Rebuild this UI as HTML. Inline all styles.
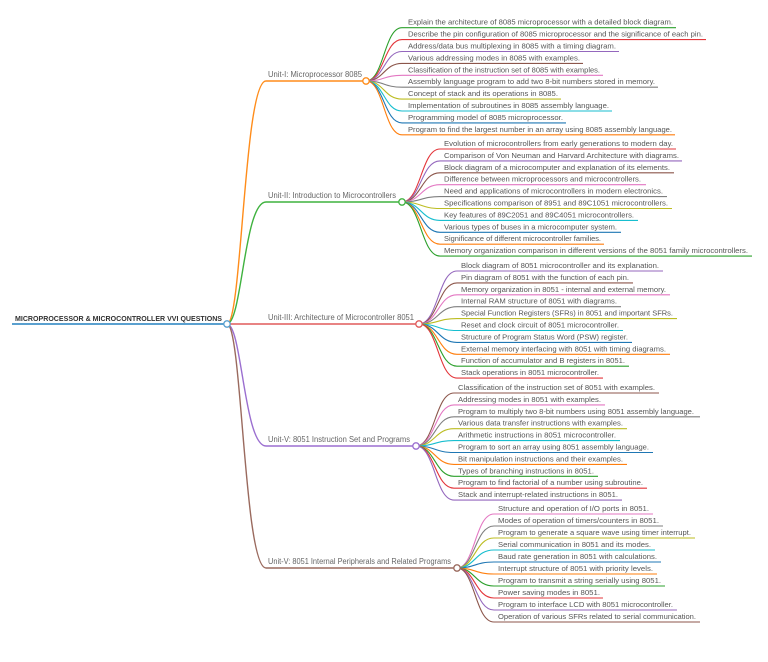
<!DOCTYPE html>
<html><head><meta charset="utf-8"><style>
html,body{margin:0;padding:0;background:#fff;}
svg{display:block;}
text{font-family:"Liberation Sans",sans-serif;font-size:7.3px;fill:#555;}
.u{font-size:7.8px;fill:#666;}
</style></head><body>
<svg width="768" height="662" viewBox="0 0 768 662" xmlns="http://www.w3.org/2000/svg" fill="none">
<!-- root branches -->
<g stroke-width="1.4" fill="none">
<path d="M227 324 C242 324 244 81 266 81 H366" stroke="#ff8c1a"/>
<path d="M227 324 C242 324 244 202 266 202 H402" stroke="#3fb23f"/>
<path d="M227 324 H419" stroke="#e05a5a"/>
<path d="M227 324 C242 324 244 446 266 446 H416" stroke="#9b6fd0"/>
<path d="M227 324 C242 324 244 568 266 568 H457" stroke="#9a6a5e"/>
<path d="M12 324 H227" stroke="#5aa0cf" stroke-width="2"/>
</g>
<text x="15" y="321" style="font-weight:bold;font-size:7.6px;fill:#333" textLength="207" lengthAdjust="spacingAndGlyphs">MICROPROCESSOR &amp; MICROCONTROLLER VVI QUESTIONS</text>
<text class="u" x="268" y="77" textLength="94" lengthAdjust="spacingAndGlyphs">Unit-I: Microprocessor 8085</text>
<text class="u" x="268" y="198" textLength="128" lengthAdjust="spacingAndGlyphs">Unit-II: Introduction to Microcontrollers</text>
<text class="u" x="268" y="320" textLength="146" lengthAdjust="spacingAndGlyphs">Unit-III: Architecture of Microcontroller 8051</text>
<text class="u" x="268" y="442" textLength="142" lengthAdjust="spacingAndGlyphs">Unit-V: 8051 Instruction Set and Programs</text>
<text class="u" x="268" y="564" textLength="183" lengthAdjust="spacingAndGlyphs">Unit-V: 8051 Internal Peripherals and Related Programs</text>

<!-- Unit I children -->
<g stroke-width="1.1">
<path d="M366 81 C384 81 384 27.7 402 27.7 H676" stroke="#2ca02c"/>
<path d="M366 81 C384 81 384 39.6 402 39.6 H706" stroke="#e3353a"/>
<path d="M366 81 C384 81 384 51.5 402 51.5 H619" stroke="#9467bd"/>
<path d="M366 81 C384 81 384 63.4 402 63.4 H583" stroke="#8c564b"/>
<path d="M366 81 C384 81 384 75.3 402 75.3 H603" stroke="#e377c2"/>
<path d="M366 81 C384 81 384 87.2 402 87.2 H658" stroke="#7f7f7f"/>
<path d="M366 81 C384 81 384 99.1 402 99.1 H561" stroke="#bcbd22"/>
<path d="M366 81 C384 81 384 111 402 111 H612" stroke="#17becf"/>
<path d="M366 81 C384 81 384 122.9 402 122.9 H566" stroke="#1f77b4"/>
<path d="M366 81 C384 81 384 134.8 402 134.8 H675" stroke="#ff7f0e"/>
</g>
<g>
<text x="408" y="24.7" textLength="265" lengthAdjust="spacingAndGlyphs">Explain the architecture of 8085 microprocessor with a detailed block diagram.</text>
<text x="408" y="36.6" textLength="295" lengthAdjust="spacingAndGlyphs">Describe the pin configuration of 8085 microprocessor and the significance of each pin.</text>
<text x="408" y="48.5" textLength="208" lengthAdjust="spacingAndGlyphs">Address/data bus multiplexing in 8085 with a timing diagram.</text>
<text x="408" y="60.4" textLength="172" lengthAdjust="spacingAndGlyphs">Various addressing modes in 8085 with examples.</text>
<text x="408" y="72.3" textLength="192" lengthAdjust="spacingAndGlyphs">Classification of the instruction set of 8085 with examples.</text>
<text x="408" y="84.2" textLength="247" lengthAdjust="spacingAndGlyphs">Assembly language program to add two 8-bit numbers stored in memory.</text>
<text x="408" y="96.1" textLength="150" lengthAdjust="spacingAndGlyphs">Concept of stack and its operations in 8085.</text>
<text x="408" y="108" textLength="201" lengthAdjust="spacingAndGlyphs">Implementation of subroutines in 8085 assembly language.</text>
<text x="408" y="119.9" textLength="155" lengthAdjust="spacingAndGlyphs">Programming model of 8085 microprocessor.</text>
<text x="408" y="131.8" textLength="264" lengthAdjust="spacingAndGlyphs">Program to find the largest number in an array using 8085 assembly language.</text>
</g>

<!-- Unit II children -->
<g stroke-width="1.1">
<path d="M402 202 C421 202 421 149 440 149 H676" stroke="#e3353a"/>
<path d="M402 202 C421 202 421 160.9 440 160.9 H682" stroke="#9467bd"/>
<path d="M402 202 C421 202 421 172.8 440 172.8 H674" stroke="#8c564b"/>
<path d="M402 202 C421 202 421 184.7 440 184.7 H646" stroke="#e377c2"/>
<path d="M402 202 C421 202 421 196.6 440 196.6 H667" stroke="#7f7f7f"/>
<path d="M402 202 C421 202 421 208.5 440 208.5 H672" stroke="#bcbd22"/>
<path d="M402 202 C421 202 421 220.4 440 220.4 H638" stroke="#17becf"/>
<path d="M402 202 C421 202 421 232.3 440 232.3 H621" stroke="#1f77b4"/>
<path d="M402 202 C421 202 421 244.2 440 244.2 H604" stroke="#ff7f0e"/>
<path d="M402 202 C421 202 421 256.1 440 256.1 H752" stroke="#2ca02c"/>
</g>
<g>
<text x="444" y="146" textLength="229" lengthAdjust="spacingAndGlyphs">Evolution of microcontrollers from early generations to modern day.</text>
<text x="444" y="157.9" textLength="235" lengthAdjust="spacingAndGlyphs">Comparison of Von Neuman and Harvard Architecture with diagrams.</text>
<text x="444" y="169.8" textLength="226" lengthAdjust="spacingAndGlyphs">Block diagram of a microcomputer and explanation of its elements.</text>
<text x="444" y="181.7" textLength="197" lengthAdjust="spacingAndGlyphs">Difference between microprocessors and microcontrollers.</text>
<text x="444" y="193.6" textLength="219" lengthAdjust="spacingAndGlyphs">Need and applications of microcontrollers in modern electronics.</text>
<text x="444" y="205.5" textLength="224" lengthAdjust="spacingAndGlyphs">Specifications comparison of 8951 and 89C1051 microcontrollers.</text>
<text x="444" y="217.4" textLength="190" lengthAdjust="spacingAndGlyphs">Key features of 89C2051 and 89C4051 microcontrollers.</text>
<text x="444" y="229.3" textLength="173" lengthAdjust="spacingAndGlyphs">Various types of buses in a microcomputer system.</text>
<text x="444" y="241.2" textLength="157" lengthAdjust="spacingAndGlyphs">Significance of different microcontroller families.</text>
<text x="444" y="253.1" textLength="304" lengthAdjust="spacingAndGlyphs">Memory organization comparison in different versions of the 8051 family microcontrollers.</text>
</g>

<!-- Unit III children -->
<g stroke-width="1.1">
<path d="M419 324 C438 324 438 271 457 271 H663" stroke="#9467bd"/>
<path d="M419 324 C438 324 438 282.9 457 282.9 H633" stroke="#8c564b"/>
<path d="M419 324 C438 324 438 294.8 457 294.8 H670" stroke="#e377c2"/>
<path d="M419 324 C438 324 438 306.7 457 306.7 H621" stroke="#7f7f7f"/>
<path d="M419 324 C438 324 438 318.6 457 318.6 H677" stroke="#bcbd22"/>
<path d="M419 324 C438 324 438 330.5 457 330.5 H623" stroke="#17becf"/>
<path d="M419 324 C438 324 438 342.4 457 342.4 H632" stroke="#1f77b4"/>
<path d="M419 324 C438 324 438 354.3 457 354.3 H670" stroke="#ff7f0e"/>
<path d="M419 324 C438 324 438 366.2 457 366.2 H629" stroke="#2ca02c"/>
<path d="M419 324 C438 324 438 378.1 457 378.1 H603" stroke="#e3353a"/>
</g>
<g>
<text x="461" y="268" textLength="198" lengthAdjust="spacingAndGlyphs">Block diagram of 8051 microcontroller and its explanation.</text>
<text x="461" y="279.9" textLength="168" lengthAdjust="spacingAndGlyphs">Pin diagram of 8051 with the function of each pin.</text>
<text x="461" y="291.8" textLength="205" lengthAdjust="spacingAndGlyphs">Memory organization in 8051 - internal and external memory.</text>
<text x="461" y="303.7" textLength="156" lengthAdjust="spacingAndGlyphs">Internal RAM structure of 8051 with diagrams.</text>
<text x="461" y="315.6" textLength="212" lengthAdjust="spacingAndGlyphs">Special Function Registers (SFRs) in 8051 and important SFRs.</text>
<text x="461" y="327.5" textLength="158" lengthAdjust="spacingAndGlyphs">Reset and clock circuit of 8051 microcontroller.</text>
<text x="461" y="339.4" textLength="167" lengthAdjust="spacingAndGlyphs">Structure of Program Status Word (PSW) register.</text>
<text x="461" y="351.3" textLength="205" lengthAdjust="spacingAndGlyphs">External memory interfacing with 8051 with timing diagrams.</text>
<text x="461" y="363.2" textLength="164" lengthAdjust="spacingAndGlyphs">Function of accumulator and B registers in 8051.</text>
<text x="461" y="375.1" textLength="138" lengthAdjust="spacingAndGlyphs">Stack operations in 8051 microcontroller.</text>
</g>

<!-- Unit IV children -->
<g stroke-width="1.1">
<path d="M416 446 C435 446 435 393 454 393 H659" stroke="#8c564b"/>
<path d="M416 446 C435 446 435 404.9 454 404.9 H605" stroke="#e377c2"/>
<path d="M416 446 C435 446 435 416.8 454 416.8 H700" stroke="#7f7f7f"/>
<path d="M416 446 C435 446 435 428.7 454 428.7 H627" stroke="#bcbd22"/>
<path d="M416 446 C435 446 435 440.6 454 440.6 H620" stroke="#17becf"/>
<path d="M416 446 C435 446 435 452.5 454 452.5 H653" stroke="#1f77b4"/>
<path d="M416 446 C435 446 435 464.4 454 464.4 H627" stroke="#ff7f0e"/>
<path d="M416 446 C435 446 435 476.3 454 476.3 H598" stroke="#2ca02c"/>
<path d="M416 446 C435 446 435 488.2 454 488.2 H647" stroke="#e3353a"/>
<path d="M416 446 C435 446 435 500.1 454 500.1 H622" stroke="#9467bd"/>
</g>
<g>
<text x="458" y="390" textLength="197" lengthAdjust="spacingAndGlyphs">Classification of the instruction set of 8051 with examples.</text>
<text x="458" y="401.9" textLength="143" lengthAdjust="spacingAndGlyphs">Addressing modes in 8051 with examples.</text>
<text x="458" y="413.8" textLength="236" lengthAdjust="spacingAndGlyphs">Program to multiply two 8-bit numbers using 8051 assembly language.</text>
<text x="458" y="425.7" textLength="165" lengthAdjust="spacingAndGlyphs">Various data transfer instructions with examples.</text>
<text x="458" y="437.6" textLength="158" lengthAdjust="spacingAndGlyphs">Arithmetic instructions in 8051 microcontroller.</text>
<text x="458" y="449.5" textLength="191" lengthAdjust="spacingAndGlyphs">Program to sort an array using 8051 assembly language.</text>
<text x="458" y="461.4" textLength="165" lengthAdjust="spacingAndGlyphs">Bit manipulation instructions and their examples.</text>
<text x="458" y="473.3" textLength="136" lengthAdjust="spacingAndGlyphs">Types of branching instructions in 8051.</text>
<text x="458" y="485.2" textLength="185" lengthAdjust="spacingAndGlyphs">Program to find factorial of a number using subroutine.</text>
<text x="458" y="497.1" textLength="160" lengthAdjust="spacingAndGlyphs">Stack and interrupt-related instructions in 8051.</text>
</g>

<!-- Unit V children -->
<g stroke-width="1.1">
<path d="M457 568 C475 568 475 514 494 514 H653" stroke="#e377c2"/>
<path d="M457 568 C475 568 475 526 494 526 H663" stroke="#7f7f7f"/>
<path d="M457 568 C475 568 475 538 494 538 H695" stroke="#bcbd22"/>
<path d="M457 568 C475 568 475 550 494 550 H655" stroke="#17becf"/>
<path d="M457 568 C475 568 475 562 494 562 H661" stroke="#1f77b4"/>
<path d="M457 568 C475 568 475 574 494 574 H657" stroke="#ff7f0e"/>
<path d="M457 568 C475 568 475 586 494 586 H665" stroke="#2ca02c"/>
<path d="M457 568 C475 568 475 598 494 598 H603" stroke="#e3353a"/>
<path d="M457 568 C475 568 475 610 494 610 H677" stroke="#9467bd"/>
<path d="M457 568 C475 568 475 622 494 622 H700" stroke="#8c564b"/>
</g>
<g>
<text x="498" y="511" textLength="151" lengthAdjust="spacingAndGlyphs">Structure and operation of I/O ports in 8051.</text>
<text x="498" y="523" textLength="161" lengthAdjust="spacingAndGlyphs">Modes of operation of timers/counters in 8051.</text>
<text x="498" y="535" textLength="193" lengthAdjust="spacingAndGlyphs">Program to generate a square wave using timer interrupt.</text>
<text x="498" y="547" textLength="153" lengthAdjust="spacingAndGlyphs">Serial communication in 8051 and its modes.</text>
<text x="498" y="559" textLength="159" lengthAdjust="spacingAndGlyphs">Baud rate generation in 8051 with calculations.</text>
<text x="498" y="571" textLength="155" lengthAdjust="spacingAndGlyphs">Interrupt structure of 8051 with priority levels.</text>
<text x="498" y="583" textLength="163" lengthAdjust="spacingAndGlyphs">Program to transmit a string serially using 8051.</text>
<text x="498" y="595" textLength="102" lengthAdjust="spacingAndGlyphs">Power saving modes in 8051.</text>
<text x="498" y="607" textLength="175" lengthAdjust="spacingAndGlyphs">Program to interface LCD with 8051 microcontroller.</text>
<text x="498" y="619" textLength="198" lengthAdjust="spacingAndGlyphs">Operation of various SFRs related to serial communication.</text>
</g>

<!-- node circles -->
<g fill="#fff" stroke-width="1.3">
<circle cx="227" cy="324" r="3.2" stroke="#5aa0cf"/>
<circle cx="366" cy="81" r="3.2" stroke="#ff8c1a"/>
<circle cx="402" cy="202" r="3.2" stroke="#3fb23f"/>
<circle cx="419" cy="324" r="3.2" stroke="#e05a5a"/>
<circle cx="416" cy="446" r="3.2" stroke="#9b6fd0"/>
<circle cx="457" cy="568" r="3.2" stroke="#9a6a5e"/>
</g>
</svg>
</body></html>
